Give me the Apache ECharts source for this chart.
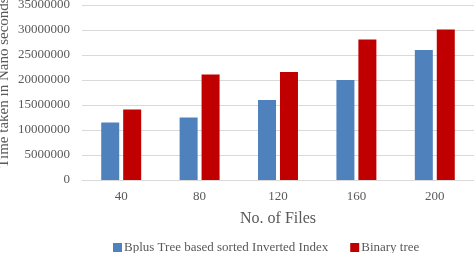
<!DOCTYPE html>
<html>
<head>
<meta charset="utf-8">
<script src="https://cdn.jsdelivr.net/npm/echarts@6/dist/echarts.min.js"></script>
<style>html,body{margin:0;padding:0;background:#fff}#c{width:474px;height:253px}</style>
</head>
<body>
<div id="c"></div>
<script>
const categories = ['40', '80', '120', '160', '200'];
const bplusValues = [11500000, 12500000, 16000000, 20000000, 26000000];
const binaryValues = [14100000, 21100000, 21600000, 28100000, 30100000];
const seriesNames = ['Bplus Tree based sorted Inverted Index', 'Binary tree'];
const yTicks = { min: 0, max: 35000000, interval: 5000000 };

const font = 'Liberation Serif';
const chart = echarts.init(document.getElementById('c'));
chart.setOption({
  animation: false,
  grid: { left: 82, right: 0, top: 5, bottom: 73, containLabel: false, outerBoundsMode: 'none' },
  legend: {
    left: 108, top: 236,
    itemWidth: 9, itemHeight: 9, itemGap: 22,
    icon: 'rect',
    textStyle: { fontFamily: font, fontSize: 13, color: '#595959', padding: [0, 0, 0, -3] },
    data: seriesNames
  },
  xAxis: {
    type: 'category',
    data: categories,
    name: 'No. of Files',
    nameLocation: 'middle',
    nameGap: 31,
    nameMoveOverlap: false,
    nameTextStyle: { fontFamily: font, fontSize: 16, color: '#595959' },
    axisLine: { lineStyle: { color: '#d9d9d9' } },
    axisTick: { show: false },
    axisLabel: { fontFamily: font, fontSize: 13, color: '#595959', margin: 10 }
  },
  yAxis: {
    type: 'value',
    min: yTicks.min, max: yTicks.max, interval: yTicks.interval,
    name: 'Time taken in Nano seconds',
    nameLocation: 'middle',
    nameGap: 70,
    nameMoveOverlap: false,
    nameTextStyle: { fontFamily: font, fontSize: 15, color: '#595959', padding: [0, 0, 0, 20] },
    axisLine: { show: false },
    axisTick: { show: false },
    splitLine: { lineStyle: { color: '#d9d9d9' } },
    axisLabel: { fontFamily: font, fontSize: 13, color: '#595959', margin: 12, formatter: v => String(v) }
  },
  series: [
    { name: seriesNames[0], type: 'bar', data: bplusValues, barWidth: 18, barGap: '22%', itemStyle: { color: '#4f81bd' } },
    { name: seriesNames[1], type: 'bar', data: binaryValues, barWidth: 18, barGap: '22%', itemStyle: { color: '#c00000' } }
  ]
});
</script>
</body>
</html>
